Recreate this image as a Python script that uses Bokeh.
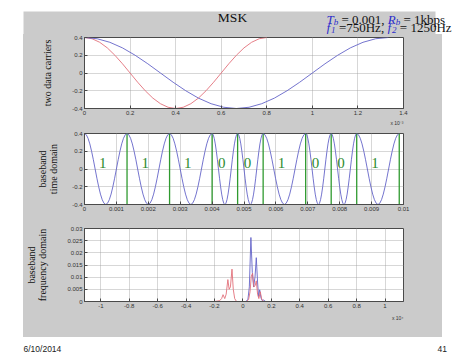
import numpy as np
from bokeh.plotting import figure
from bokeh.models import (Label, Title, Spacer, FixedTicker,
                          CustomJSTickFormatter, Range1d)
from bokeh.layouts import column, row
from bokeh.embed import file_html
from bokeh.resources import INLINE
from bokeh.core.properties import value

# ---------------- data ----------------
f1_hz = 750          # carrier for bit 1
f2_hz = 1250         # carrier for bit 0
bits = [1, 1, 1, 0, 0, 1, 0, 0, 1]
bit_text = ["1", "1", "1", "0", "0", "1", "0", "0", "1"]
# one carrier cycle, sampled at 24 equal phase steps (amplitude 0.4)
carrier_cycle = [0.4, 0.386, 0.346, 0.283, 0.2, 0.104, 0.0, -0.104, -0.2,
                 -0.283, -0.346, -0.386, -0.4, -0.386, -0.346, -0.283, -0.2,
                 -0.104, 0.0, 0.104, 0.2, 0.283, 0.346, 0.386, 0.4]

top_x_ticks = [0, 0.2, 0.4, 0.6, 0.8, 1.0, 1.2, 1.4]          # x 10^-3
amp_ticks = [-0.4, -0.2, 0, 0.2, 0.4]
mid_x_ticks = [0, 0.001, 0.002, 0.003, 0.004, 0.005, 0.006, 0.007, 0.008, 0.009, 0.01]
freq_x_ticks = [-1, -0.8, -0.6, -0.4, -0.2, 0, 0.2, 0.4, 0.6, 0.8, 1]  # x 10^4
freq_y_ticks = [0, 0.005, 0.01, 0.015, 0.02, 0.025, 0.03]

# baseband spectrum (frequency in units of 10^4 Hz, magnitude)
spec_red_f = [-1.115, -0.2, -0.165, -0.15, -0.14, -0.128, -0.118, -0.106, -0.097,
              -0.088, -0.077, -0.068, -0.058, -0.045, 0.0, 0.025, 0.04, 0.05,
              0.059, 0.068, 0.077, 0.086, 0.094, 0.103, 0.112, 0.122, 0.132, 0.145, 0.2]
spec_red_m = [0, 0, 0.0003, 0.0012, 0.0028, 0.0012, 0.003, 0.009, 0.005,
              0.006, 0.0133, 0.005, 0.0012, 0, 0, 0, 0.0008, 0.004,
              0.0105, 0.0116, 0.006, 0.0065, 0.0085, 0.003, 0.0012, 0.004, 0.001, 0, 0]
spec_blue_f = [0, 0.02, 0.035, 0.045, 0.056, 0.066, 0.075, 0.085, 0.094, 0.103,
               0.11, 0.118, 0.127, 0.135, 0.145, 0.16, 0.2, 1.13]
spec_blue_m = [0, 0, 0.0008, 0.006, 0.0263, 0.012, 0.006, 0.01, 0.018, 0.008,
               0.002, 0.0048, 0.0015, 0.0004, 0.0006, 0, 0, 0]

# ---------------- styles ----------------
GRAY = "#cbcbcb"
RED = "#e2707a"
BLUE = "#6464c8"
GREEN = "#2f9a2f"
INK = "#111111"
TXTBLUE = "#2b2bcc"
SERIF = "Liberation Serif"
SANS = "Liberation Sans"

fmt = CustomJSTickFormatter(code="return String(Math.round(tick*100000)/100000);")


def make_fig(xr, yr, fh, top, bottom, xticks, yticks, ylabel, standoff):
    p = figure(frame_width=319, frame_height=fh,
               x_range=Range1d(*xr), y_range=Range1d(*yr),
               min_border_left=54, min_border_right=39,
               min_border_top=top, min_border_bottom=bottom,
               toolbar_location=None, output_backend="svg",
               background_fill_color="white", border_fill_color=GRAY,
               outline_line_color="#4a4a4a", outline_line_width=1)
    for ax, ticks in ((p.xaxis[0], xticks), (p.yaxis[0], yticks)):
        ax.ticker = FixedTicker(ticks=ticks)
        ax.formatter = fmt
        ax.major_tick_in = 3
        ax.major_tick_out = 0
        ax.minor_tick_line_color = None
        ax.axis_line_color = "#4a4a4a"
        ax.major_tick_line_color = "#4a4a4a"
        ax.major_label_text_font = SANS
        ax.major_label_text_font_size = "6px"
        ax.major_label_text_color = "#333333"
        ax.major_label_standoff = 2
    ya = p.yaxis[0]
    ya.axis_label = ylabel
    ya.axis_label_text_font = SERIF
    ya.axis_label_text_font_style = "normal"
    ya.axis_label_text_font_size = "10px"
    ya.axis_label_text_color = INK
    ya.axis_label_text_line_height = 1.0
    ya.axis_label_standoff = standoff
    for gr in (p.xgrid[0], p.ygrid[0]):
        gr.grid_line_color = "#9a9a9a"
        gr.grid_line_dash = "1 1"
        gr.grid_line_width = 0.8
    return p


def exponent(p, text, standoff):
    p.add_layout(Title(text=text, align="right", text_font=SANS, text_font_size="5px",
                       text_font_style="normal", text_color="#333333",
                       standoff=standoff), "below")


# ---------------- header (slide title) ----------------
HH = 34
ph = figure(width=458, height=HH, x_range=Range1d(0, 458), y_range=Range1d(HH, 0),
            min_border=0, x_axis_location=None, y_axis_location=None,
            toolbar_location=None, output_backend="svg",
            background_fill_color="white", border_fill_color="white",
            outline_line_color=None)
ph.grid.visible = False
ph.quad(left=[23], right=[435], top=[11], bottom=[HH], fill_color=GRAY, line_color=None)


def hl(x, y, text, size, color=INK, style="normal", align="left"):
    ph.add_layout(Label(x=x, y=y, text=text, text_font=SERIF, text_font_size=f"{size}px",
                        text_color=color, text_font_style=style, text_align=align,
                        text_baseline="alphabetic"))


L1, L2 = 18.5, 26.5
hl(232, 17.0, "MSK", 13.5, align="center")
hl(326.0, L1, "T", 13, TXTBLUE, "italic")
hl(333.2, L1 + 3.4, "b", 9, TXTBLUE, "italic")
hl(341.0, L1, "= 0.001,", 13)
hl(387.3, L1, "R", 13, TXTBLUE, "italic")
hl(395.2, L1 + 3.4, "b", 9, TXTBLUE, "italic")
hl(403.0, L1, "= 1kbps", 13)
hl(326.0, L2, "f", 13, TXTBLUE, "italic")
hl(330.6, L2 + 2.7, "1", 9, TXTBLUE, "italic")
hl(338.4, L2, "=750Hz,", 13)
hl(386.9, L2, "f", 13, TXTBLUE, "italic")
hl(391.5, L2 + 2.7, "2", 9, TXTBLUE, "italic")
hl(399.3, L2, "= 1250Hz", 13)

# ---------------- top: two data carriers ----------------
p1 = make_fig((0, 1.4), (-0.4, 0.4), 71, 37 - HH, 16, top_x_ticks, amp_ticks,
              "two data carriers", 16)
n = len(carrier_cycle) - 1
t_f2 = [1000.0 * k / (n * f2_hz) for k in range(n + 1)]
t_f1 = [1000.0 * k / (n * f1_hz) for k in range(n + 1)]
p1.line(t_f2, carrier_cycle, line_color=RED, line_width=0.9)
p1.line(t_f1, carrier_cycle, line_color=BLUE, line_width=0.9)
exponent(p1, "x 10\u207b\u00b3", 0)

# ---------------- middle: baseband time domain ----------------
p2 = make_fig((0, 0.01), (-0.4, 0.4), 71, 8, 13, mid_x_ticks, amp_ticks,
              "baseband\ntime domain", 10)
wave_t, wave_y, bounds, mids = [], [], [], []
t0 = 0.0
for b in bits:
    f = f1_hz if b == 1 else f2_hz
    for k in range(n + 1):
        if k == 0 and wave_t:
            continue
        wave_t.append(t0 + k / (n * f))
        wave_y.append(carrier_cycle[k])
    mids.append(t0 + 0.5 / f)
    t0 += 1.0 / f
    bounds.append(t0)
p2.segment(x0=bounds, x1=bounds, y0=[-0.4] * len(bounds), y1=[0.4] * len(bounds),
           line_color=GREEN, line_width=1.3)
p2.line(wave_t, wave_y, line_color=BLUE, line_width=0.9)
p2.text(x=mids, y=[0.065] * len(mids), text=bit_text, text_color="#2e8b2e",
        text_font=value(SERIF), text_font_size="15px", text_align="center",
        text_baseline="middle", x_offset=-3)

# ---------------- bottom: baseband frequency domain ----------------
p3 = make_fig((-1.115, 1.13), (0, 0.03), 73, 11, 36, freq_x_ticks, freq_y_ticks,
              "baseband\nfrequency domain", 16)
p3.line(spec_blue_f, spec_blue_m, line_color=BLUE, line_width=0.9)
p3.line(spec_red_f, spec_red_m, line_color=RED, line_width=0.9)
exponent(p3, "x 10\u2074", 4)

# ---------------- footer ----------------
FH = 16
pf = figure(width=458, height=FH, x_range=Range1d(0, 458), y_range=Range1d(0, FH),
            min_border=0, x_axis_location=None, y_axis_location=None,
            toolbar_location=None, output_backend="svg",
            background_fill_color="white", border_fill_color="white",
            outline_line_color=None)
pf.grid.visible = False
pf.add_layout(Label(x=23, y=4.5, text="6/10/2014", text_font=SANS, text_font_size="8.5px",
                    text_color="#222222", text_baseline="alphabetic"))
pf.add_layout(Label(x=437, y=4.5, text="41", text_font=SANS, text_font_size="8.5px",
                    text_color="#222222", text_baseline="alphabetic"))

plots = column(p1, p2, p3, spacing=0, styles={"background-color": GRAY})
layout = column(ph,
                row(Spacer(width=23, height=10), plots, spacing=0),
                pf, spacing=0)
open("out.html", "w").write(file_html(layout, INLINE))
